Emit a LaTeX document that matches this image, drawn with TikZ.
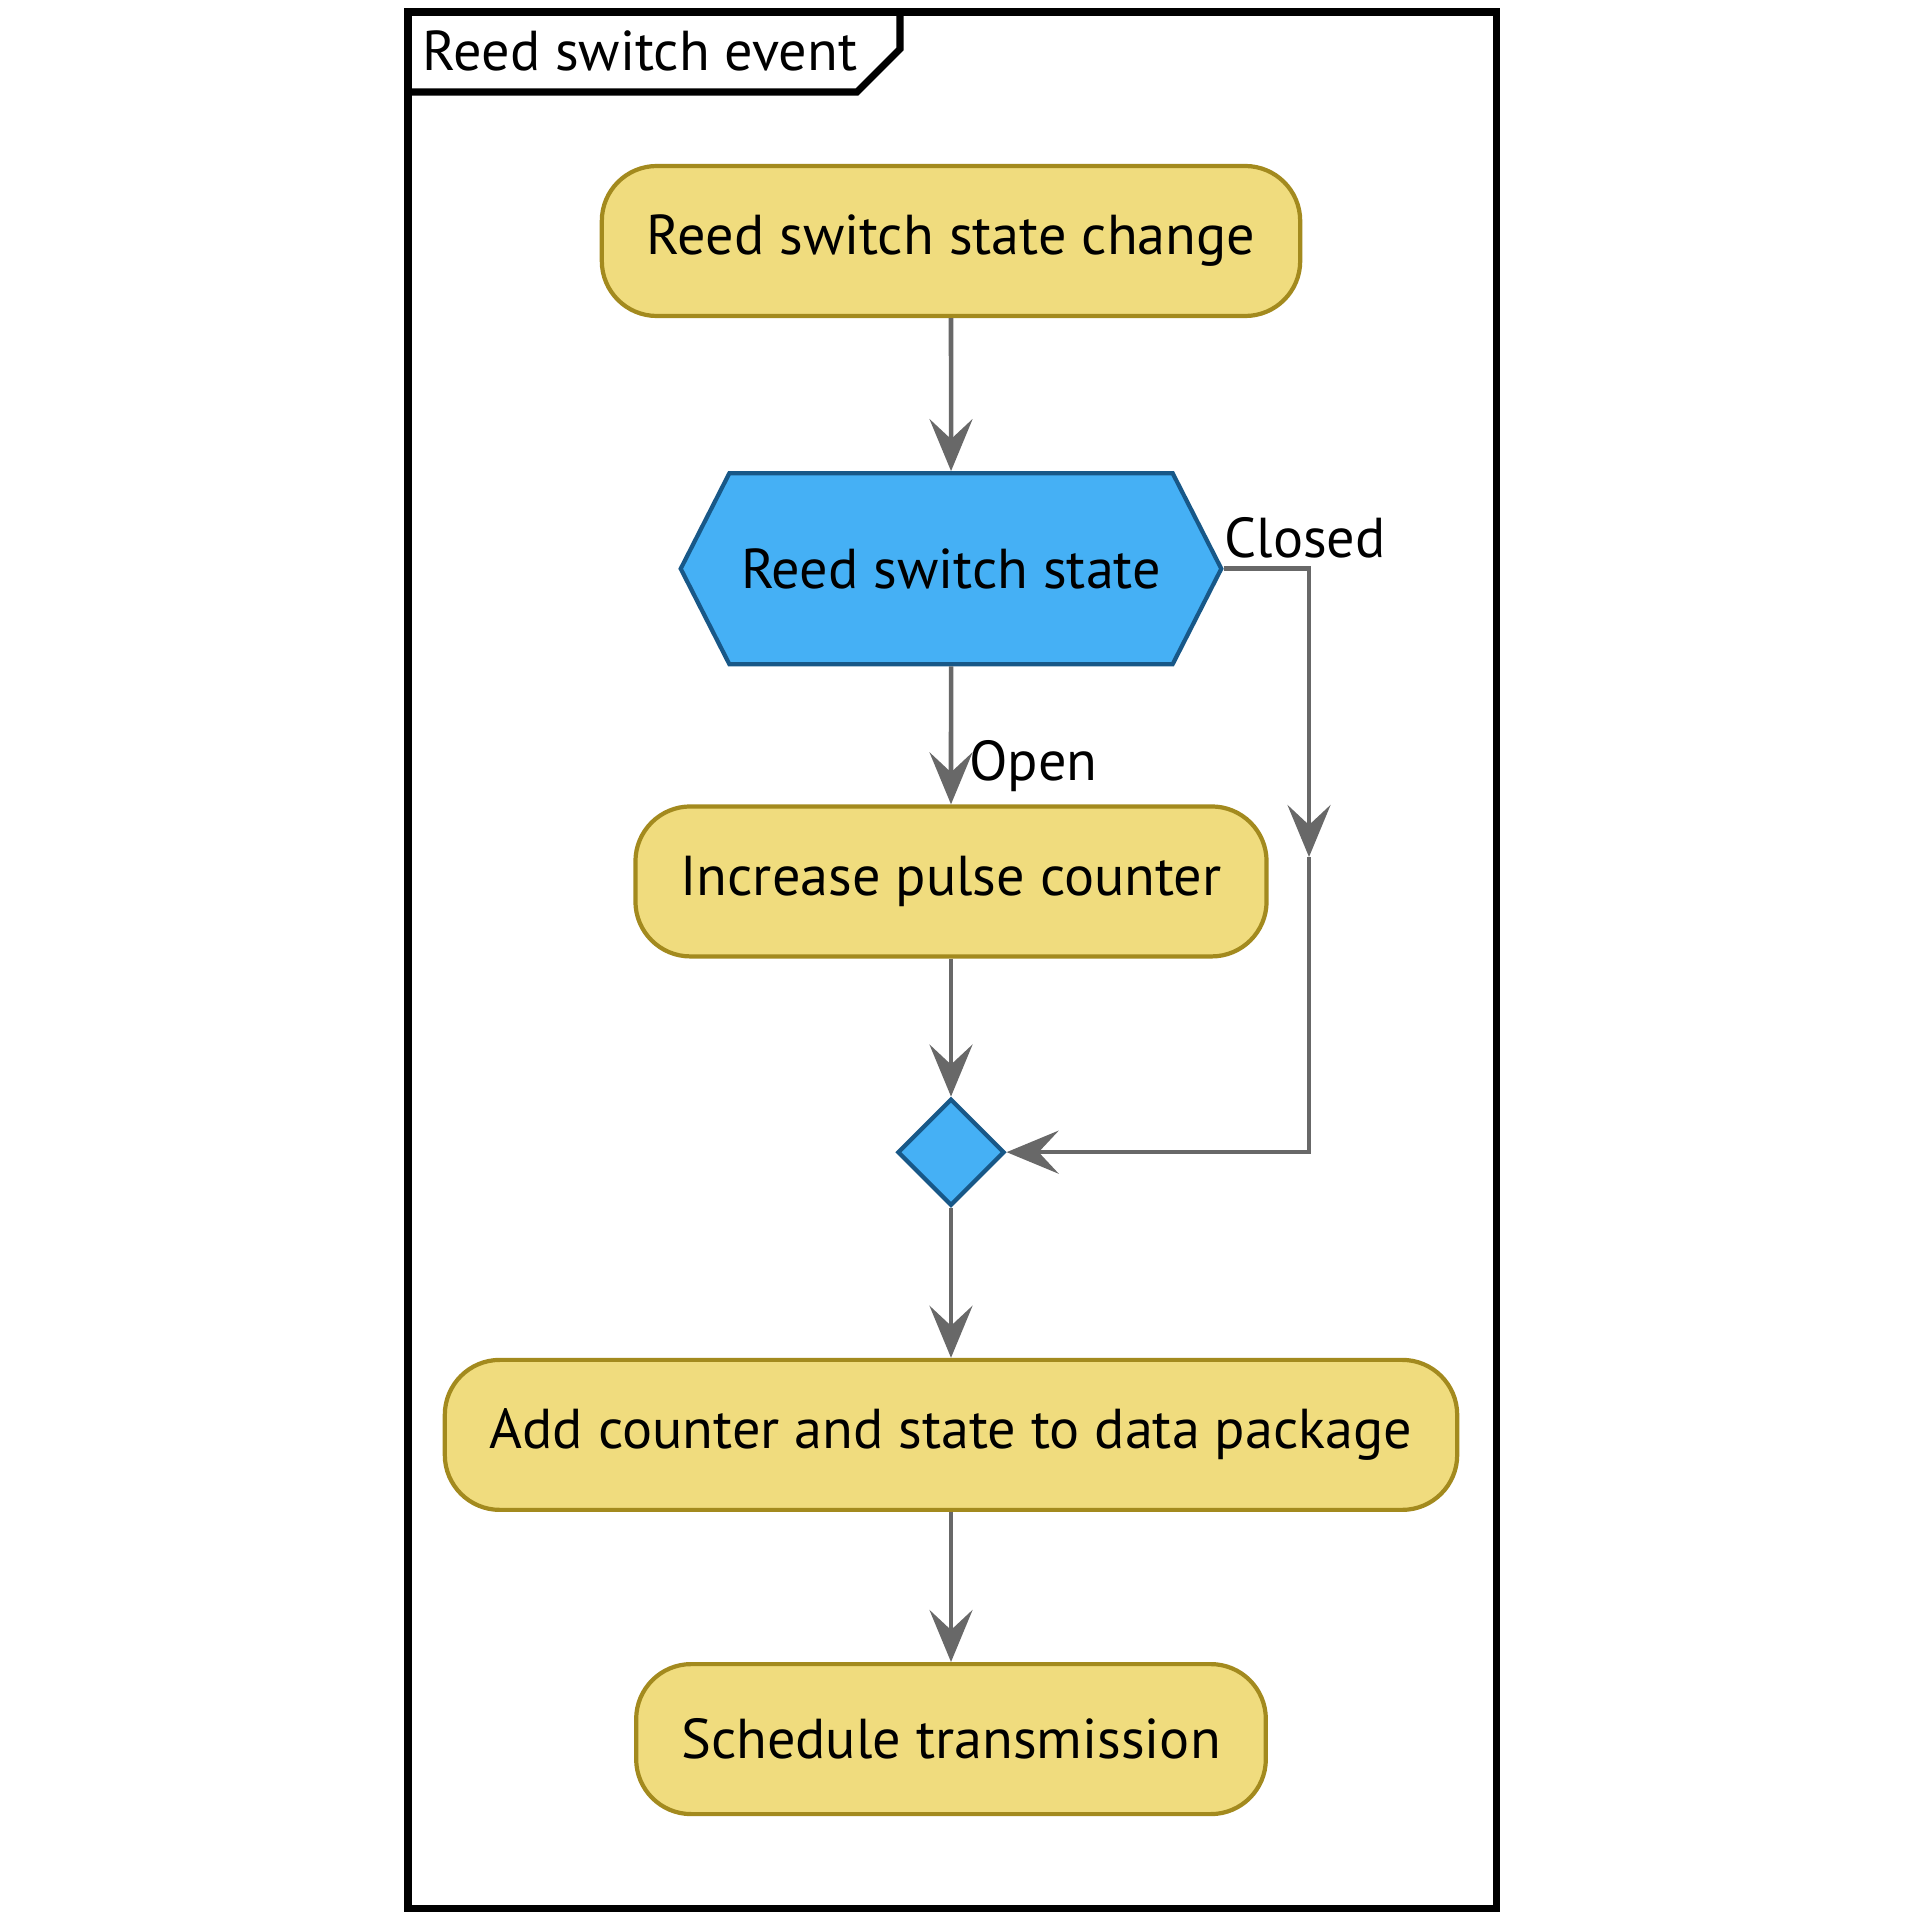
\documentclass[tikz,border=0pt]{standalone}
\usepackage{fontspec}
\setmainfont{PT Sans}
\usetikzlibrary{arrows.meta,positioning,shapes.geometric,shapes.symbols}
\definecolor{actfill}{RGB}{240,220,126}
\definecolor{actline}{RGB}{163,138,30}
\definecolor{decfill}{RGB}{69,176,245}
\definecolor{decline}{RGB}{24,88,136}
\definecolor{flowgray}{RGB}{104,104,104}

\begin{document}
\begin{tikzpicture}[node distance=1.5cm, every node/.style={font=\fontsize{16}{19}\selectfont},
    act/.style={draw=actline, line width=1.2pt, fill=actfill, rounded corners=0.55cm, minimum height=1.5cm, inner xsep=0.45cm},
    dec/.style={draw=decline, line width=1.2pt, fill=decfill},
    flow/.style={draw=flowgray, line width=1.3pt, -{Stealth[length=0.52cm,width=0.43cm,inset=0.2cm]}}]
                    \useasboundingbox (0,0) rectangle (19.2,-19.2);
                    % frame
                    \draw[line width=2pt] (4.08,-0.12) rectangle (14.96,-19.08);
                    \draw[line width=2pt] (4.08,-0.92) -- (8.57,-0.92) -- (9.00,-0.49) -- (9.00,-0.12);
                    \node (title) [anchor=west, inner sep=0pt] at (4.22,-0.51) {Reed switch event};
                    \node (chg) [act] at (9.51,-2.41)
                        {Reed switch state change};
                    \node (sw) [dec, signal, signal to=east and west, signal pointer angle=126, minimum width=5.39cm, minimum height=1.91cm, below=1.53cm of chg]
                        {Reed switch state};
                    \node (inc) [act, below=1.38cm of sw]
                        {Increase pulse counter};
                    \node (mrg) [dec, diamond, minimum size=1.07cm, inner sep=0pt, below=1.38cm of inc] {};
                    \node (add) [act, below=of mrg]
                        {Add counter and state to data package};
                    \node (tx) [act, below=of add]
                        {Schedule transmission};
                    \coordinate (cm) at (13.09,-8.57);
                    \draw[flow] (chg) -- (sw);
                    \draw[flow] (sw) -- node[pos=0.72, right, inner sep=0pt, xshift=0.16cm] {Open} (inc);
                    \draw[flow] (sw.east) -| node[pos=0, above right, inner sep=1pt, yshift=0.05cm, xshift=-0.05cm] {Closed} (cm);
                    \draw[flow] (cm) |- (mrg.east);
                    \draw[flow] (inc) -- (mrg);
                    \draw[flow] (mrg) -- (add);
                    \draw[flow] (add) -- (tx);
                \end{tikzpicture}
\end{document}
